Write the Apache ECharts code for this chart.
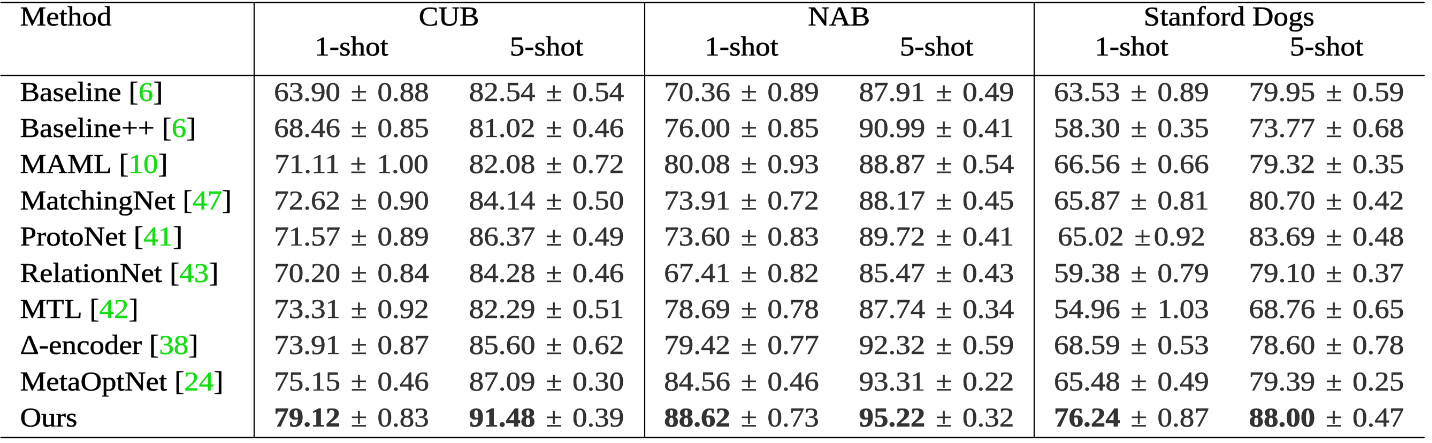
<!DOCTYPE html>
<html><head><meta charset="utf-8">
<script src="https://cdn.jsdelivr.net/npm/echarts@6/dist/echarts.min.js"></script>
<style>
html,body{margin:0;padding:0;background:#fff;overflow:hidden}
#wrap{width:1432px;height:443px;overflow:hidden}
#chart{width:1338px;height:443px;transform:scaleX(1.07);transform-origin:0 0}
</style>
</head><body><div id="wrap"><div id="chart"></div></div>
<script>
// ---------- data ----------
const methods = ['Baseline','Baseline++','MAML','MatchingNet','ProtoNet','RelationNet','MTL','Δ-encoder','MetaOptNet','Ours'];
const methodRefs = ['6','6','10','47','41','43','42','38','24',''];
const datasets = ['CUB','NAB','Stanford Dogs'];
const shots = ['1-shot','5-shot','1-shot','5-shot','1-shot','5-shot'];
const cub1Mean = [63.90,68.46,71.11,72.62,71.57,70.20,73.31,73.91,75.15,79.12];
const cub1Std  = [0.88,0.85,1.00,0.90,0.89,0.84,0.92,0.87,0.46,0.83];
const cub5Mean = [82.54,81.02,82.08,84.14,86.37,84.28,82.29,85.60,87.09,91.48];
const cub5Std  = [0.54,0.46,0.72,0.50,0.49,0.46,0.51,0.62,0.30,0.39];
const nab1Mean = [70.36,76.00,80.08,73.91,73.60,67.41,78.69,79.42,84.56,88.62];
const nab1Std  = [0.89,0.85,0.93,0.72,0.83,0.82,0.78,0.77,0.46,0.73];
const nab5Mean = [87.91,90.99,88.87,88.17,89.72,85.47,87.74,92.32,93.31,95.22];
const nab5Std  = [0.49,0.41,0.54,0.45,0.41,0.43,0.34,0.59,0.22,0.32];
const dog1Mean = [63.53,58.30,66.56,65.87,65.02,59.38,54.96,68.59,65.48,76.24];
const dog1Std  = [0.89,0.35,0.66,0.81,0.92,0.79,1.03,0.53,0.49,0.87];
const dog5Mean = [79.95,73.77,79.32,80.70,83.69,79.10,68.76,78.60,79.39,88.00];
const dog5Std  = [0.59,0.68,0.35,0.42,0.48,0.37,0.65,0.78,0.25,0.47];
const tightCells = [[4,4]]; // [column,row] printed without space after ±

// ---------- build ----------
const means = [cub1Mean,cub5Mean,nab1Mean,nab5Mean,dog1Mean,dog5Mean];
const stds  = [cub1Std,cub5Std,nab1Std,nab5Std,dog1Std,dog5Std];
const cells = [];
means.forEach((col,c)=>col.forEach((v,r)=>cells.push({value:[c,r]})));

const FONT = 'Liberation Serif';
const FS = 27.5;
const SX = 1.07;                 // horizontal stretch applied via CSS
const px = v => v / SX;          // real pixel -> chart coordinate
const W = 1338;
const L = px(1), R = W - px(1424), VL = px(254);
const TOP = 2.5, MID = 75.5, BOT = 443 - 437.5;
const ruleStyle = {color:'#000', width:1.3};
const rule = pos => ({type:'value', position:pos, min:0, max:1,
  axisLine:{show:true, onZero:false, lineStyle:ruleStyle},
  axisTick:{show:false}, axisLabel:{show:false}, splitLine:{show:false}});
const BW = 0.35;
const txt = {fontFamily:FONT, fontSize:FS, color:'#000', textBorderColor:'#000', textBorderWidth:BW};
const gridBase = {containLabel:false, outerBoundsMode:'none'};

const chart = echarts.init(document.getElementById('chart'), null, {renderer:'canvas', devicePixelRatio:2});
chart.setOption({
  animation:false,
  backgroundColor:'#fff',
  textStyle:{fontFamily:FONT},
  title:{text:'Method', left:px(20), top:3.3, padding:0,
    textStyle:Object.assign({fontWeight:'normal', lineHeight:30}, txt)},
  grid:[
    Object.assign({left:L, right:R, top:TOP, bottom:BOT}, gridBase),
    Object.assign({left:VL, right:R, top:MID, bottom:BOT}, gridBase),
    Object.assign({left:L, right:R, top:MID, bottom:BOT}, gridBase),
    Object.assign({left:VL, right:R, top:TOP, bottom:BOT}, gridBase)
  ],
  xAxis:[
    Object.assign({gridIndex:0}, rule('top')),
    Object.assign({gridIndex:0}, rule('bottom')),
    {gridIndex:1, type:'category', data:shots, position:'top',
      axisLine:{show:false}, axisTick:{show:false}, splitLine:{show:false},
      axisLabel:Object.assign({interval:0, margin:MID-48.3, verticalAlign:'middle'}, txt)},
    Object.assign({gridIndex:2}, rule('top')),
    {gridIndex:3, type:'category', data:datasets, position:'top', boundaryGap:true,
      axisLine:{show:false}, axisTick:{show:false},
      axisLabel:Object.assign({interval:0, inside:true, margin:18.3-TOP, verticalAlign:'middle'}, txt),
      splitLine:{show:true, interval:0, showMinLine:true, showMaxLine:false, lineStyle:{color:'#000', width:1.1}}}
  ],
  yAxis:[
    {gridIndex:0, type:'value', show:false, min:0, max:1},
    {gridIndex:1, type:'category', data:methods, inverse:true,
      axisLine:{show:false}, axisTick:{show:false}, splitLine:{show:false},
      axisLabel:Object.assign({interval:0, align:'left', margin:VL - px(20),
        formatter:(v,i)=> methodRefs[i] ? v + ' [{g|' + methodRefs[i] + '}]' : v,
        rich:{g:{color:'#11dd11', fontFamily:FONT, fontSize:FS, textBorderColor:'#11dd11', textBorderWidth:BW}}}, txt)},
    {gridIndex:2, type:'value', show:false, min:0, max:1},
    {gridIndex:3, type:'value', show:false, min:0, max:1}
  ],
  series:[{
    type:'scatter', xAxisIndex:2, yAxisIndex:1, data:cells,
    symbolSize:1, itemStyle:{color:'rgba(0,0,0,0)'}, silent:true,
    label:Object.assign({show:true, position:'inside',
      formatter:p=>{
        const c = p.value[0], r = p.value[1];
        const m = means[c][r], s = stds[c][r].toFixed(2);
        const best = m === Math.max(...means[c]);
        const tight = tightCells.some(t=>t[0]===c && t[1]===r);
        const mt = best ? '{b|' + m.toFixed(2) + '}' : '{n|' + m.toFixed(2) + '}';
        return mt + '{n| }{pm|±}{n|' + (tight ? '' : ' ') + s + '}';
      },
      rich:{
        n:{fontFamily:FONT, fontSize:FS, color:'#000', textBorderColor:'#000', textBorderWidth:BW},
        b:{fontFamily:FONT, fontSize:FS, color:'#000', fontWeight:'bold', textBorderColor:'#000', textBorderWidth:BW},
        pm:{fontFamily:FONT, fontSize:FS, color:'#000', padding:[0,3], textBorderColor:'#000', textBorderWidth:BW}
      }}, txt)
  }]
});
</script></body></html>
